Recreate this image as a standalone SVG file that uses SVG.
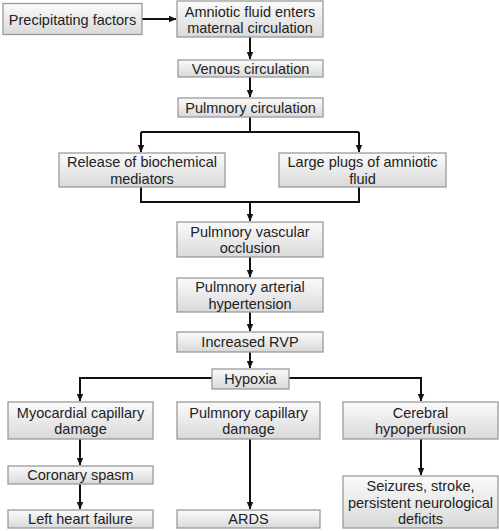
<svg xmlns="http://www.w3.org/2000/svg" width="499" height="531" viewBox="0 0 499 531">
<defs>
<linearGradient id="g" x1="0" y1="0" x2="0" y2="1">
<stop offset="0" stop-color="#fbfbfb"/>
<stop offset="1" stop-color="#d9d9d9"/>
</linearGradient>
<marker id="a" markerWidth="8" markerHeight="8" refX="7" refY="4" orient="auto" markerUnits="userSpaceOnUse">
<path d="M0,0.8 L7.5,4 L0,7.2 Z" fill="#111"/>
</marker>
<style>
.b{fill:url(#g);stroke:#9a9a9a;stroke-width:1.3}
.t{font-family:"Liberation Sans",Arial,sans-serif;font-size:14.5px;fill:#222;text-anchor:middle}
.c{fill:none;stroke:#111;stroke-width:2}
</style>
</defs>
<rect width="499" height="531" fill="#fff"/>
<g id="connectors">
<path class="c" d="M142,19 H176" marker-end="url(#a)"/>
<path class="c" d="M250,37 V59" marker-end="url(#a)"/>
<path class="c" d="M250,77 V97" marker-end="url(#a)"/>
<path class="c" d="M250,117 V132 M141,132 H359"/>
<path class="c" d="M141,132 V152" marker-end="url(#a)"/>
<path class="c" d="M359,132 V152" marker-end="url(#a)"/>
<path class="c" d="M141,187 V202 H359 V187"/>
<path class="c" d="M250,202 V221" marker-end="url(#a)"/>
<path class="c" d="M250,257 V277" marker-end="url(#a)"/>
<path class="c" d="M250,312 V331" marker-end="url(#a)"/>
<path class="c" d="M250,352 V368" marker-end="url(#a)"/>
<path class="c" d="M212,378 H80 V401" marker-end="url(#a)"/>
<path class="c" d="M289,378 H421 V401" marker-end="url(#a)"/>
<path class="c" d="M80,439 V465" marker-end="url(#a)"/>
<path class="c" d="M80,484 V509" marker-end="url(#a)"/>
<path class="c" d="M250,439 V509" marker-end="url(#a)"/>
<path class="c" d="M421,439 V475" marker-end="url(#a)"/>
</g>
<g id="precipitating"><rect class="b" x="3" y="3.5" width="139" height="31"/><text class="t" x="72.5" y="24.5">Precipitating factors</text></g>
<g id="amniotic"><rect class="b" x="177" y="1" width="146" height="36"/><text class="t" x="250" y="16.5">Amniotic fluid enters</text><text class="t" x="250" y="33">maternal circulation</text></g>
<g id="venous"><rect class="b" x="178" y="60" width="145" height="17"/><text class="t" x="250.5" y="73.5">Venous circulation</text></g>
<g id="pulm-circ"><rect class="b" x="178" y="98" width="145" height="19"/><text class="t" x="250.5" y="112.5">Pulmnory circulation</text></g>
<g id="release"><rect class="b" x="59" y="153" width="166" height="34"/><text class="t" x="142" y="167">Release of biochemical</text><text class="t" x="142" y="183.5">mediators</text></g>
<g id="plugs"><rect class="b" x="279" y="153" width="167" height="34"/><text class="t" x="362.5" y="167">Large plugs of amniotic</text><text class="t" x="362.5" y="183.5">fluid</text></g>
<g id="vasc-occl"><rect class="b" x="177" y="222" width="146" height="35"/><text class="t" x="250" y="236.5">Pulmnory vascular</text><text class="t" x="250" y="253">occlusion</text></g>
<g id="art-htn"><rect class="b" x="177" y="278" width="146" height="34"/><text class="t" x="250" y="292">Pulmnory arterial</text><text class="t" x="250" y="308.5">hypertension</text></g>
<g id="rvp"><rect class="b" x="177" y="332" width="146" height="20"/><text class="t" x="250" y="347">Increased RVP</text></g>
<g id="hypoxia"><rect class="b" x="212" y="369" width="77" height="20"/><text class="t" x="250.5" y="384">Hypoxia</text></g>
<g id="myo"><rect class="b" x="8" y="402" width="145" height="37"/><text class="t" x="80.5" y="417.5">Myocardial capillary</text><text class="t" x="80.5" y="434">damage</text></g>
<g id="pulm-cap"><rect class="b" x="177" y="402" width="143" height="37"/><text class="t" x="248.5" y="417.5">Pulmnory capillary</text><text class="t" x="248.5" y="434">damage</text></g>
<g id="cerebral"><rect class="b" x="343" y="402" width="155" height="37"/><text class="t" x="420.5" y="417.5">Cerebral</text><text class="t" x="420.5" y="434">hypoperfusion</text></g>
<g id="coronary"><rect class="b" x="8" y="466" width="145" height="18"/><text class="t" x="80.5" y="480">Coronary spasm</text></g>
<g id="lhf"><rect class="b" x="8" y="510" width="145" height="18"/><text class="t" x="80.5" y="524">Left heart failure</text></g>
<g id="ards"><rect class="b" x="177" y="510" width="143" height="18"/><text class="t" x="248.5" y="524">ARDS</text></g>
<g id="seizures"><rect class="b" x="343" y="476" width="155" height="52"/><text class="t" x="420.5" y="491">Seizures, stroke,</text><text class="t" x="420.5" y="507.5">persistent neurological</text><text class="t" x="420.5" y="524">deficits</text></g>
</svg>
